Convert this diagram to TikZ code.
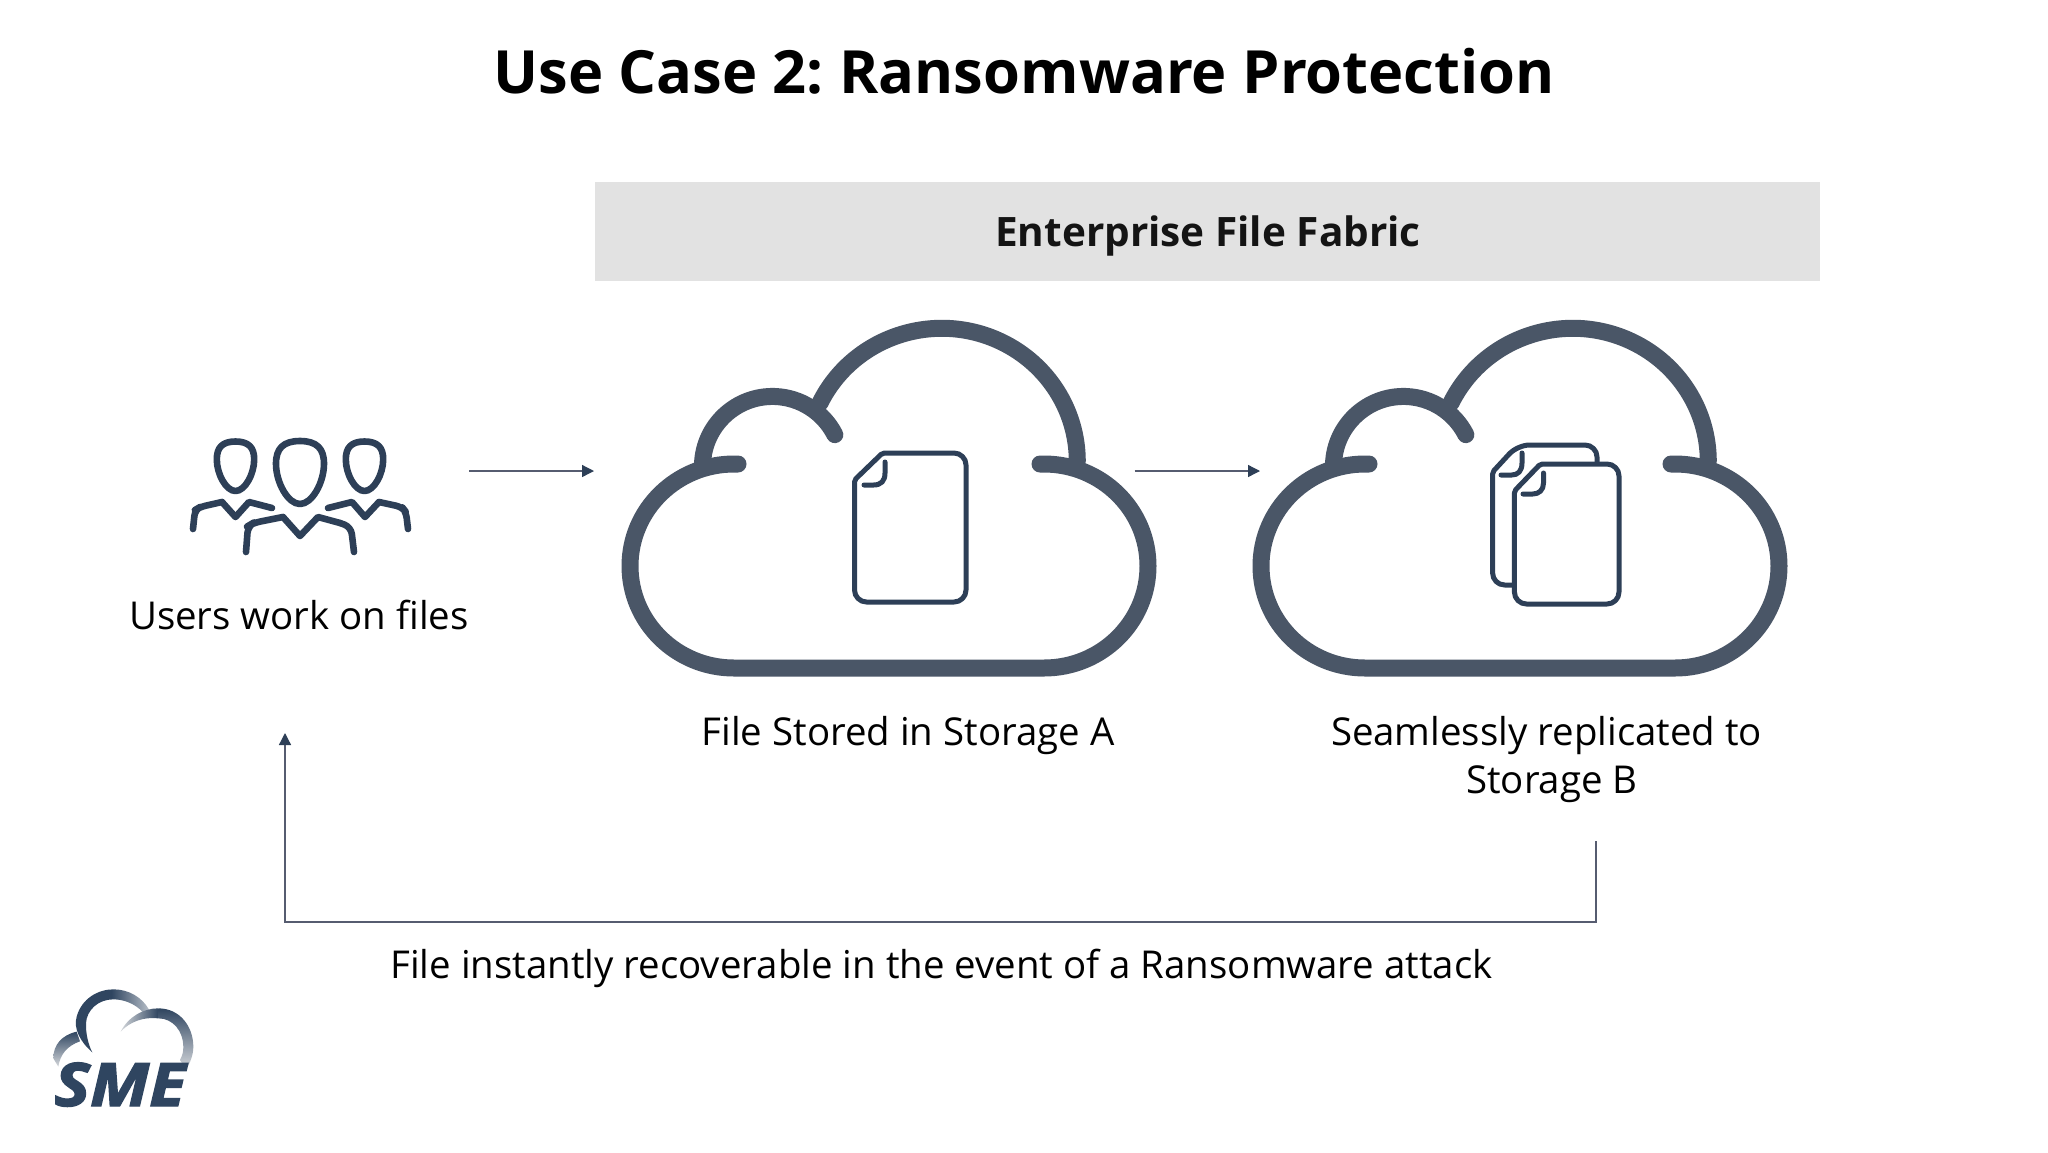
\documentclass[tikz,border=0pt]{standalone}
\usepackage{fontspec}
\setmainfont{Open Sans}
\newfontfamily\smefont[BoldItalicFeatures={FakeBold=2.2}]{Open Sans}
\usetikzlibrary{arrows.meta}
\definecolor{cloudc}{HTML}{4A5667}
\definecolor{iconc}{HTML}{2D3F57}
\definecolor{linec}{HTML}{565C70}
\definecolor{barc}{HTML}{E2E2E2}
\definecolor{logoc}{HTML}{2F4560}
\definecolor{logol}{HTML}{D5D8DC}
\tikzset{
  cloudline/.style={draw=cloudc,line width=17pt,line cap=round,line join=round},
  docline/.style={draw=iconc,line width=5pt,line cap=round,line join=round},
  userline/.style={draw=iconc,line width=6.6pt,line cap=round,line join=round},
  conn/.style={draw=linec,line width=1.3pt},
  tip/.style={-{Triangle[length=12pt,width=12pt,color=iconc]}},
  label/.style={anchor=base,align=center,text=black,inner sep=0pt,font=\fontsize{38.4}{48}\selectfont},
  cloudicon/.pic={
    \draw[cloudline] (0,0) -- (-4,0) arc[start angle=270,end angle=90,x radius=104,y radius=102] -- (306,204)
      arc[start angle=90,end angle=-90,x radius=104,y radius=102] -- (302,0);
    \draw[cloudline] (-35.5,0) arc[start angle=182,end angle=333,radius=70];
    \draw[cloudline] (82,-61) arc[start angle=206,end angle=360,x radius=135.5,y radius=133] -- (338,0);
  },
  egg/.pic={
    \draw[userline] (0,0) .. controls (0.7,0) and (1,0.12) .. (1,0.36)
      .. controls (1,0.66) and (0.5,1) .. (0,1)
      .. controls (-0.5,1) and (-1,0.66) .. (-1,0.36)
      .. controls (-1,0.12) and (-0.7,0) .. cycle;
  }
}
\begin{document}
\frenchspacing
\begin{tikzpicture}[x=1pt,y=-1pt]
\useasboundingbox (0,0) rectangle (2048,1152);
\fill[white] (0,0) rectangle (2048,1152);

% title and bar
\node[anchor=base,inner sep=0pt,font=\fontsize{59.6}{70}\bfseries\selectfont] (title) at (1024,93.5) {Use Case 2: Ransomware Protection};
\node[fill=barc,minimum width=1225pt,minimum height=99pt,inner sep=0pt,anchor=north west] (bar) at (595,182) {};
\node[anchor=base,inner sep=0pt,font=\fontsize{40.5}{48}\bfseries\selectfont,text=black!92] (bartext) at (1208,246) {Enterprise File Fabric};

% clouds
\pic at (738,464) {cloudicon};
\pic at (1369,464) {cloudicon};

% document A
\draw[docline] (854.5,540) [rounded corners=2pt] -- (854.5,480) -- (882.5,453) [rounded corners=12pt] -- (966,453) -- (966,602) -- (854.5,602) -- (854.5,540) -- cycle;
\draw[docline] (885,462) -- (885,473) .. controls (885,481) and (881,485) .. (873.6,485) -- (864,485);

% documents B
\draw[docline] (1597,463) [rounded corners=12pt] -- (1597,445) -- (1517.5,445) [rounded corners=2pt] -- (1492.6,472) [rounded corners=12pt] -- (1492.6,585) -- (1513,585);
\draw[docline] (1522,453) -- (1522,463) .. controls (1522,471) and (1518,475) .. (1511.7,475) -- (1501,475);
\draw[docline] (1514.4,540) [rounded corners=2pt] -- (1514.4,491) -- (1540.4,464) [rounded corners=12pt] -- (1619,464) -- (1619,604) -- (1514.4,604) -- (1514.4,540) -- cycle;
\draw[docline] (1543.5,473) -- (1543.5,483) .. controls (1543.5,490) and (1539,494) .. (1532.8,494) -- (1523,494);

% users
\pic[shift={(235.5,441.5)},xscale=18.7,yscale=49.5] {egg};
\pic[shift={(300,441)},xscale=24,yscale=63] {egg};
\pic[shift={(364.5,441.5)},xscale=18.7,yscale=49.5] {egg};
\draw[userline,rounded corners=6pt] (193,529) -- (195,510) -- (200,507) -- (222,502);
\draw[userline] (222,502) -- (235.5,517) -- (249,502) -- (272,508);
\draw[userline,rounded corners=7pt] (246,552) -- (248,526) -- (253,523) -- (283,517);
\draw[userline] (283,517) -- (300,536) -- (318,517) -- (340,523);
\draw[userline,rounded corners=7pt] (340,523) -- (351,527) -- (354,552);
\draw[userline] (328,508) -- (352,502) -- (365,517) -- (379,502);
\draw[userline,rounded corners=6pt] (379,502) -- (402,507) -- (406,512) -- (408,529);

% text
\node[label] (users) at (299,629.5) {Users work on files};
\node[label] (storea) at (908,745.5) {File Stored in Storage A};
\node[label] (storeb) at (1546.5,745.5) {Seamlessly replicated to};
\node[label] (storeb2) at (1552,793) {Storage B};
\node[label] (recover) at (941.5,978) {File instantly recoverable in the event of a Ransomware attack};

% connectors
\coordinate (a1s) at (469,471);
\coordinate (a1e) at (594,471);
\coordinate (a2s) at (1134.6,471);
\coordinate (a2e) at (1260,471);
\coordinate (r0) at (1596,841);
\coordinate (r1) at (1596,922);
\coordinate (r2) at (285,922);
\coordinate (r3) at (285,733);
\draw[conn,tip] (a1s) -- (a1e);
\draw[conn,tip] (a2s) -- (a2e);
\draw[conn,tip,line join=miter] (r0) -- (r1) -- (r2) -- (r3);

% logo
\begin{scope}[shift={(30,970)},xscale=1/3,yscale=1/3]
  \shade[left color=logoc,right color=logoc!35!white,middle color=logoc,shading angle=90]
    (187,247) .. controls (150,215) and (130,175) .. (140,140)
    .. controls (155,85) and (205,58) .. (250,58)
    .. controls (295,58) and (335,80) .. (358,120)
    -- (340,128) .. controls (315,100) and (280,88) .. (250,88)
    .. controls (205,88) and (170,120) .. (168,160)
    .. controls (167,190) and (175,225) .. (187,247) -- cycle;
  \shade[top color=logoc,bottom color=logol]
    (140,185) .. controls (95,195) and (70,225) .. (70,265)
    -- (85,290) .. controls (90,255) and (110,228) .. (150,214) -- cycle;
  \shade[left color=logol,right color=logoc]
    (272,185) .. controls (295,140) and (340,115) .. (385,115)
    -- (385,145) .. controls (340,140) and (300,155) .. (272,185) -- cycle;
  \shade[top color=logoc,bottom color=logol]
    (385,115) .. controls (450,115) and (490,170) .. (490,230)
    .. controls (490,255) and (480,280) .. (468,298)
    -- (450,270) .. controls (458,255) and (460,245) .. (460,230)
    .. controls (460,185) and (430,145) .. (385,145) -- cycle;
\end{scope}
\node[anchor=base,inner sep=0pt,text=logoc] (sme) at (120,1106) {\scalebox{1.12}[1]{\fontsize{60}{60}\smefont\bfseries\itshape\selectfont SME}};
\end{tikzpicture}
\end{document}
